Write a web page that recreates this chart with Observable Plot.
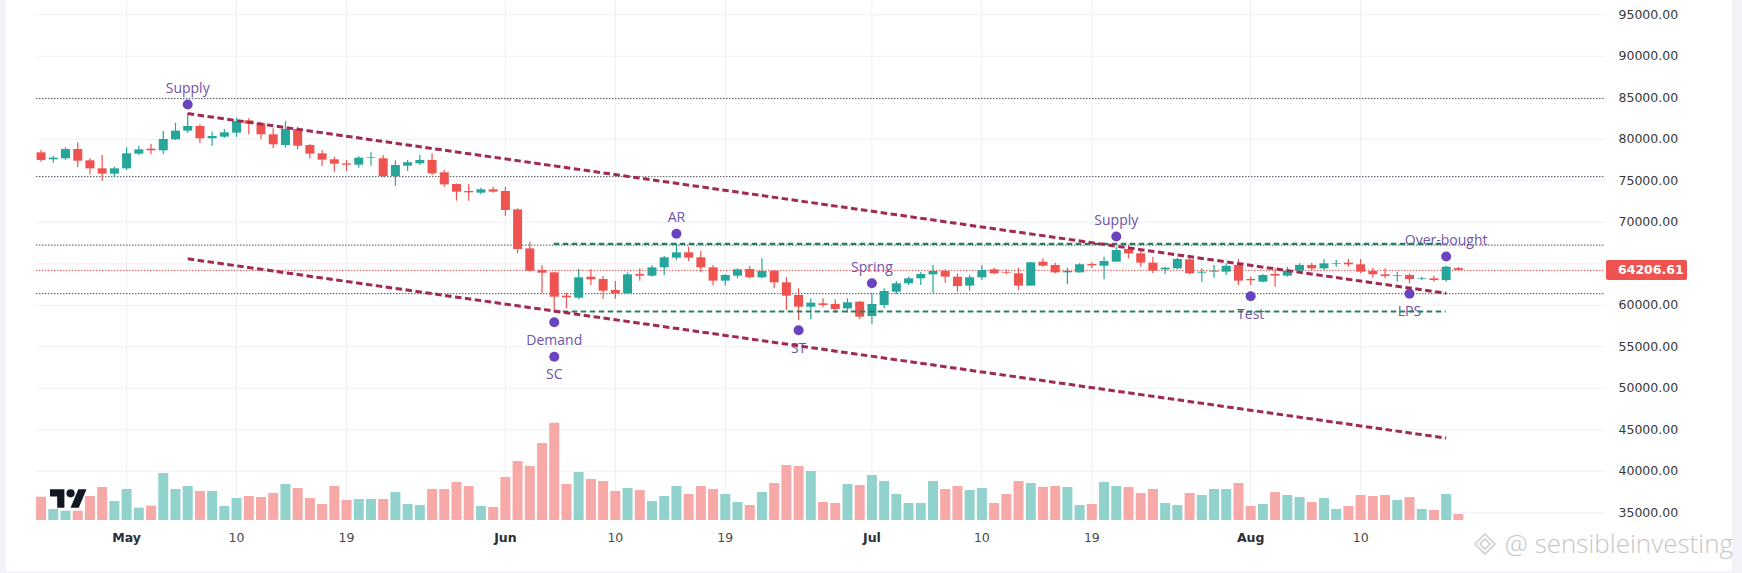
<!DOCTYPE html>
<html>
<head>
<meta charset="utf-8">
<script src="https://cdn.jsdelivr.net/npm/d3@7"></script>
<script src="https://cdn.jsdelivr.net/npm/@observablehq/plot@0.6"></script>
<style>
  html, body { margin: 0; padding: 0; background: #fff; }
  #wrap { position: relative; width: 1742px; height: 573px; background: #f1f3f8; overflow: hidden; }
  #chart { position: absolute; left: 6px; top: 0; width: 1726px; height: 571px; background: #fff; }
  #chart svg { position: absolute; left: 0; top: 0; }
  #tvlogo { position: absolute; left: 50px; top: 485px; }
  #wm { position: absolute; right: 9px; top: 528px; height: 30px; line-height: 30px;
        font-family: "Open Sans", sans-serif; font-weight: 300; font-size: 26px; color: #c6c6c6; white-space: nowrap; }
  #wm svg { vertical-align: -3px; margin-right: 6px; }
</style>
</head>
<body>
<div id="wrap">
  <div id="chart"></div>
  <svg id="tvlogo" width="37" height="29" viewBox="0 0 36 28"><path fill="#131722" d="M14 22H7V11H0V4h14v18zM28 22h-8l7.5-18h8L28 22z"/><circle fill="#131722" cx="20" cy="8" r="4"/></svg>
  <div id="wm"><svg width="28" height="24" viewBox="0 0 28 24"><g fill="none" stroke="#cfcfcf" stroke-width="1.6"><path d="M14 2 L24 12 L14 22 L4 12 Z"/><path d="M14 7 L19 12 L14 17 L9 12 Z"/></g></svg>@ sensibleinvesting</div>
</div>
<script>
// ---- data ----
const startDate = "2024-04-24";

const opens = [78370,77530,77650,78770,77410,76440,75800,76440,78210,78810,
78610,79940,80980,81540,80060,80260,80740,82220,81860,80540,
79250,81180,79250,78250,77530,77040,76880,77730,77650,75520,
76760,77040,77450,75960,74550,73710,73510,73910,73710,71500,
66800,64190,63910,61100,60860,63390,63110,61780,61380,63710,
63510,64510,65680,66320,65720,64510,62910,63510,64310,63310,
64110,62710,61180,59770,60180,60100,59570,60380,58650,59980,
61580,62590,63190,63670,64070,63390,62310,63310,64270,63910,
63790,62310,65200,64800,63910,63910,64920,64710,65200,66720,
66200,65080,64270,64390,65480,63870,63990,63990,64800,63110,
62790,63710,63510,64110,64800,64390,64960,65080,64880,64070,
63670,63510,63590,63110,63190,62990,64420];

const highs = [78650,77970,78970,79570,77650,78050,76640,78970,79170,79410,
80940,81940,83070,81740,80860,81180,82550,82470,81980,81260,
82140,81460,79370,78650,77850,77450,77930,78370,78050,77410,
77450,78050,78250,76240,74630,74550,74110,74230,74230,71620,
67610,64800,63990,61460,64310,64310,63470,62870,63910,64390,
64800,65880,67410,67000,66520,64800,63710,64390,64680,65600,
64190,63310,61980,60780,60780,60660,60780,60460,61380,61980,
62870,63390,63990,64800,64270,63790,63590,64800,64470,64270,
64470,65200,65600,65080,64470,65000,65120,65800,67000,67200,
66480,65800,64590,65680,65800,64390,64800,65000,65520,63390,
63670,64390,64590,65000,65080,65520,65400,65520,65520,64470,
64390,63990,63790,63390,63510,64710,64560];

const lows = [77240,77120,77450,76560,75720,74960,75400,76240,78050,78130,
78170,79850,80740,79490,79170,80140,80260,80540,79940,78850,
78930,78770,77650,76720,76040,76120,76520,76760,75400,74350,
76120,76840,75640,74230,72550,72550,73310,73510,70740,66200,
63990,61380,59170,59570,60700,62390,60700,60700,61300,62910,
63390,63590,65400,65280,63910,62310,62310,63190,63190,63190,
61980,59370,58170,58290,59690,59050,59050,58250,57690,59570,
61300,62390,62390,61460,62670,61580,61700,62990,63670,63670,
61780,62310,64590,63790,62510,63870,64390,63070,65200,65600,
64590,63790,63670,64270,63670,62790,63270,63590,62390,62390,
62710,62180,63390,63990,64190,64190,64590,64590,63790,63270,
63190,62790,62590,62990,62790,62790,64130];

const closes = [77450,77730,78770,77360,76440,75800,76440,78250,78730,78610,
79980,80980,81540,80060,80340,80780,82140,81820,80540,79330,
81180,79170,78210,77490,77000,76880,77730,77810,75520,76840,
77180,77450,75840,74510,73630,73550,73910,73630,71420,66720,
64110,63870,60980,60900,63310,63070,61700,61380,63670,63510,
64510,65720,66320,65680,64510,62910,63590,64270,63310,64070,
62710,61100,59770,60260,59980,59490,60300,58570,60100,61660,
62590,63190,63710,64070,63390,62260,63310,64190,63790,63830,
62310,65120,64710,63910,64070,64880,64750,65280,66600,66200,
65080,64110,64470,65520,63790,63990,64110,64710,62910,62950,
63590,63510,64110,64800,64390,65000,65040,64880,63990,63670,
63470,63590,63110,63190,62990,64590,64206.61];

const volumes = [70,33,28,28,72,99,57,93,37,43,
141,93,102,87,87,42,66,72,69,81,
108,96,66,48,102,60,63,63,63,84,
48,45,93,93,114,102,42,39,129,177,
162,231,292,108,144,123,117,87,96,90,
57,72,102,78,102,93,78,54,45,84,
111,165,162,147,54,51,108,105,135,117,
78,51,51,117,93,102,90,96,51,78,
117,111,99,102,99,45,48,114,102,99,
81,93,51,45,81,75,93,93,111,42,
48,84,75,69,54,66,33,42,75,72,
75,60,69,33,30,78,18];

const priceTicks = [35000,40000,45000,50000,55000,60000,65000,70000,75000,80000,85000,90000,95000];
const monthTickDates = ["2024-05-01","2024-06-01","2024-07-01","2024-08-01"];
const monthTickLabels = ["May","Jun","Jul","Aug"];
const dayTickDates = ["2024-05-10","2024-05-19","2024-06-10","2024-06-19","2024-07-10","2024-07-19","2024-08-10"];
const dayTickLabels = ["10","19","10","19","10","19","10"];

const dottedLevels = [84900, 75500, 67250, 61400];
const lastPrice = 64206.61;

const rangeLevels = [67400, 59250];
const rangeFrom = "2024-06-05";
const rangeTo = "2024-08-17";

const trendFrom = "2024-05-06";
const trendTo = "2024-08-17";
const trendStartPrices = [83100, 65600];
const trendEndPrices = [61450, 44000];

const eventDates = ["2024-05-06","2024-06-05","2024-06-05","2024-06-15","2024-06-25","2024-07-01","2024-07-21","2024-08-01","2024-08-14","2024-08-17"];
const eventPrices = [84200, 57960, 53800, 68620, 57000, 62660, 68290, 61100, 61385, 65880];
const eventLabels = ["Supply","Demand","SC","AR","ST","Spring","Supply","Test","LPS","Over-bought"];

// ---- build tables ----
const parse = d3.utcParse("%Y-%m-%d");
const day0 = parse(startDate);
const candles = opens.map((o, i) => ({
  date: d3.utcDay.offset(day0, i), open: o, high: highs[i], low: lows[i], close: closes[i],
  volume: volumes[i], up: closes[i] >= o
}));
const byTime = new Map(candles.map(d => [+d.date, d]));
const events = eventDates.map((s, i) => {
  const date = parse(s), c = byTime.get(+date);
  return {date, price: eventPrices[i], label: eventLabels[i], below: c ? eventPrices[i] < c.low : false};
});
const rangeRows = rangeLevels.map(p => ({price: p, from: parse(rangeFrom), to: parse(rangeTo)}));
const trendRows = trendStartPrices.map((p, i) => ({from: parse(trendFrom), to: parse(trendTo), p1: p, p2: trendEndPrices[i]}));
const monthTicks = monthTickDates.map(parse);
const dayTicks = dayTickDates.map(parse);
const allTicks = monthTicks.concat(dayTicks);
// the price label hides the axis label it sits on
const axisTicks = priceTicks.filter(p => Math.abs(p - lastPrice) > 2000);

// ---- layout ----
const W = 1726, H = 571;
const M = {marginLeft: 30, marginRight: 127, marginTop: 0, marginBottom: 51};
const xDomain = [d3.utcHour.offset(day0, -9), d3.utcHour.offset(day0, 3073)];
const yDomain = [34072, 96722];
const UP = "#26a69a", DOWN = "#ef5350", VUP = "#92d2cc", VDOWN = "#f7a9a7";
const AXIS_FONT = "DejaVu Sans, sans-serif";
const base = {width: W, height: H, ...M, style: {background: "transparent", overflow: "visible", fontFamily: AXIS_FONT}};

const chart = document.getElementById("chart");

// layer 1: grid
const gridPlot = Plot.plot({
  ...base,
  x: {type: "utc", domain: xDomain, axis: null},
  y: {domain: yDomain, axis: null},
  marks: [
    Plot.gridY(priceTicks, {stroke: "#edf0f6", strokeOpacity: 1}),
    Plot.gridX(allTicks, {stroke: "#edf0f6", strokeOpacity: 1})
  ]
});
chart.appendChild(gridPlot);

// layer 2: volume
const volPlot = Plot.plot({
  ...base,
  x: {type: "utc", domain: xDomain, axis: null},
  y: {domain: [0, 1560], axis: null},
  marks: [
    Plot.ruleX(candles.filter(d => d.up), {x: "date", y1: 0, y2: "volume", stroke: VUP, strokeWidth: 10}),
    Plot.ruleX(candles.filter(d => !d.up), {x: "date", y1: 0, y2: "volume", stroke: VDOWN, strokeWidth: 10})
  ]
});
chart.appendChild(volPlot);

// layer 3: price
const pricePlot = Plot.plot({
  ...base,
  x: {type: "utc", domain: xDomain, axis: null},
  y: {domain: yDomain, axis: null},
  marks: [
    Plot.ruleY(dottedLevels, {stroke: "#50535e", strokeWidth: 1, strokeDasharray: "1.5 1.5"}),
    Plot.ruleY([lastPrice], {stroke: "#ef5350", strokeWidth: 1, strokeDasharray: "1.5 1.5"}),
    Plot.ruleX(candles.filter(d => d.up), {x: "date", y1: "low", y2: "high", stroke: UP, strokeWidth: 1.2}),
    Plot.ruleX(candles.filter(d => !d.up), {x: "date", y1: "low", y2: "high", stroke: DOWN, strokeWidth: 1.2}),
    Plot.ruleX(candles.filter(d => d.up), {x: "date", y1: "open", y2: "close", stroke: UP, strokeWidth: 9}),
    Plot.ruleX(candles.filter(d => !d.up), {x: "date", y1: "open", y2: "close", stroke: DOWN, strokeWidth: 9}),
    Plot.dot(events, {x: "date", y: "price", r: 5, fill: "#6a44c0"}),
    Plot.text(events.filter(d => !d.below), {x: "date", y: "price", text: "label", dy: -16, fill: "#6f52aa", fontSize: 14, fontFamily: "Open Sans, sans-serif"}),
    Plot.text(events.filter(d => d.below), {x: "date", y: "price", text: "label", dy: 18, fill: "#6f52aa", fontSize: 14, fontFamily: "Open Sans, sans-serif"}),
    Plot.ruleY(rangeRows, {y: "price", x1: "from", x2: "to", stroke: "#2c7c63", strokeWidth: 2.2, strokeDasharray: "5.5 3.5"}),
    Plot.link(trendRows, {x1: "from", y1: "p1", x2: "to", y2: "p2", stroke: "#a12b50", strokeWidth: 3, strokeDasharray: "6.5 3.5"}),
    Plot.axisY(axisTicks, {anchor: "right", tickSize: 0, tickPadding: 13, textAnchor: "start", tickFormat: d => d.toFixed(2), fontSize: 12.5, color: "#3a3a3a"}),
    Plot.axisX(monthTicks, {anchor: "bottom", tickSize: 0, tickPadding: 13, tickFormat: d => monthTickLabels[monthTicks.findIndex(t => +t === +d)], fontSize: 12.5, fontWeight: "bold", color: "#2a2e39"}),
    Plot.axisX(dayTicks, {anchor: "bottom", tickSize: 0, tickPadding: 13, tickFormat: d => dayTickLabels[dayTicks.findIndex(t => +t === +d)], fontSize: 12.5, color: "#4a4a4a"})
  ]
});
chart.appendChild(pricePlot);

// current price badge on the price axis, placed through the y scale
const yScale = pricePlot.scale("y");
const yy = yScale.apply(lastPrice);
const gx = W - M.marginRight + 1;
const badge = d3.select(pricePlot).append("g").attr("text-anchor", "start");
badge.append("rect").attr("x", gx).attr("y", yy - 10).attr("width", 81).attr("height", 20).attr("rx", 2).attr("fill", "#ef5350");
badge.append("text").attr("x", gx + 12).attr("y", yy).attr("dy", "0.35em").attr("text-anchor", "start")
  .attr("fill", "#fff").attr("font-weight", "bold").attr("font-size", 12.5)
  .attr("font-family", AXIS_FONT).text(lastPrice.toFixed(2));
</script>
</body>
</html>
